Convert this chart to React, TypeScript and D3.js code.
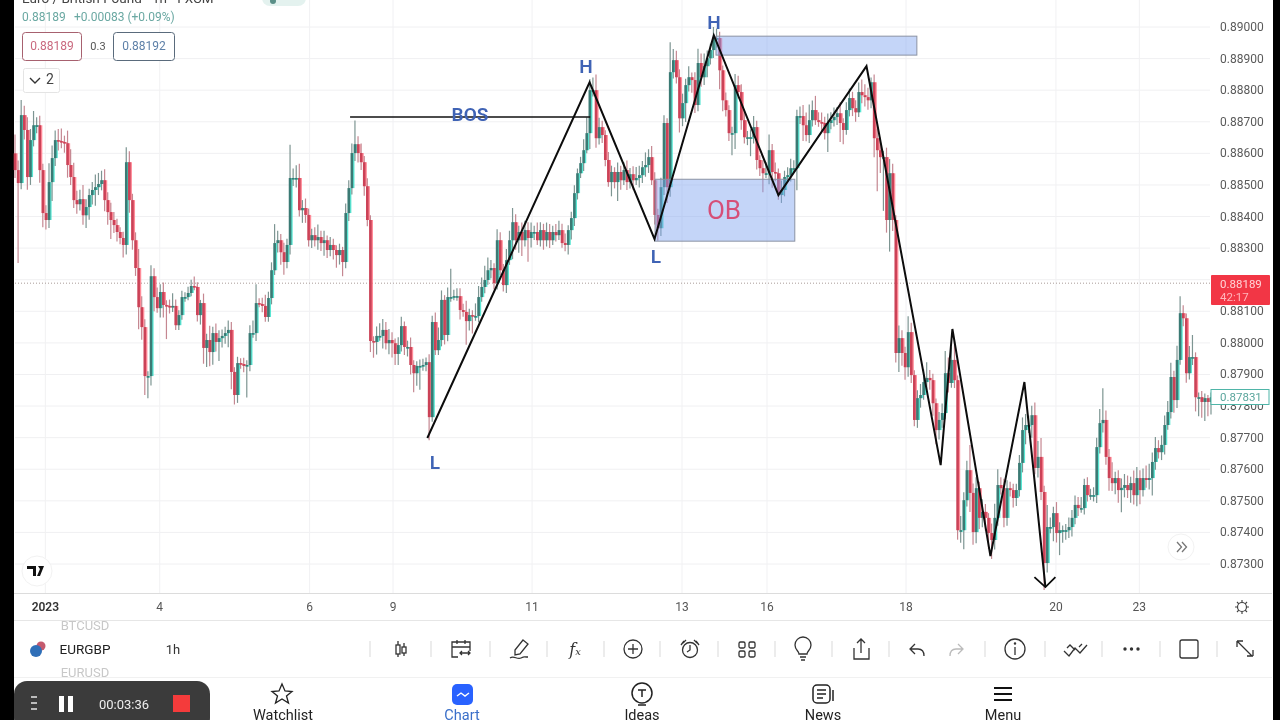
import React from "react";
import * as d3 from "d3";

// All candle values are in units of 0.00001 above this base price.
const BASE_PRICE = 0.87;
const UNIT = 0.00001;
const FIRST_OPEN = 1600;

const closes = [
  1547,1506,1721,1674,1525,1642,1689,1689,1547,1411,1389,1509,
  1585,1642,1639,1636,1632,1563,1525,1452,1439,1455,1404,1430,
  1468,1484,1493,1503,1515,1452,1414,1389,1373,1351,1332,1310,
  1572,1452,1325,1237,1113,1050,895,895,1211,1145,1110,1161,
  1120,1117,1113,1117,1056,1088,1145,1145,1158,1180,1177,1088,
  1126,984,1009,971,1031,1003,1015,1022,1031,1041,908,835,
  936,933,927,930,1031,1031,1126,1123,1117,1082,1142,1230,
  1316,1325,1287,1256,1310,1522,1522,1522,1420,1427,1405,1325,
  1341,1325,1335,1316,1325,1294,1310,1294,1278,1294,1256,1411,
  1490,1601,1629,1601,1572,1496,1389,1006,1003,1022,1022,1041,
  999,1009,999,965,993,1053,987,987,930,904,927,927,
  930,939,765,1066,977,1009,1136,1025,1145,1145,1148,1148,
  1104,1098,1069,1088,1085,1085,1145,1177,1199,1230,1237,1189,
  1325,1230,1183,1262,1325,1382,1325,1351,1325,1357,1332,1351,
  1351,1325,1357,1325,1351,1325,1351,1341,1357,1316,1310,1357,
  1395,1474,1537,1569,1610,1664,1800,1800,1648,1683,1658,1579,
  1509,1541,1509,1541,1515,1547,1509,1534,1515,1522,1531,1556,
  1563,1588,1515,1405,1363,1493,1696,1493,1857,1895,1841,1711,
  1759,1816,1841,1832,1753,1886,1841,1876,1901,1927,1965,1965,
  1863,1768,1737,1664,1664,1816,1794,1705,1651,1651,1651,1683,
  1579,1553,1537,1537,1610,1541,1537,1468,1484,1525,1531,1553,
  1553,1718,1718,1689,1658,1705,1737,1705,1699,1696,1664,1696,
  1705,1715,1727,1696,1674,1737,1775,1743,1730,1794,1784,1778,
  1768,1825,1648,1610,1588,1588,1389,1537,1389,968,1015,968,
  923,1034,898,756,825,835,876,889,882,809,724,756,
  778,904,873,946,882,407,407,502,597,525,401,540,
  446,465,446,398,376,446,550,540,446,540,534,509,
  534,620,724,740,740,771,604,639,528,303,417,417,
  461,398,407,407,407,417,446,487,477,477,550,518,
  518,518,670,746,756,639,572,556,572,534,541,550,
  534,556,518,572,534,572,566,572,623,667,654,677,
  740,781,892,819,946,1094,1078,904,955,955,828,828,
  813,825,813,828,
];

const upperWicks = [
  60,30,48,30,40,35,45,25,30,20,25,60,
  40,30,35,40,20,40,50,45,30,30,45,25,
  20,25,40,35,30,35,25,30,25,20,15,20,
  47,35,20,25,60,35,25,15,35,25,30,25,
  30,15,20,40,20,15,20,15,20,20,30,15,
  10,30,20,45,20,30,25,20,20,30,25,15,
  20,15,20,15,25,40,60,15,20,35,20,25,
  60,30,20,30,20,105,30,40,45,25,30,20,
  20,25,40,20,30,15,25,20,15,20,10,30,
  25,30,75,25,30,20,25,15,15,30,40,35,
  25,35,25,15,25,30,15,20,30,15,15,20,
  20,15,25,20,30,40,30,15,30,90,20,25,
  25,20,35,20,15,40,35,30,45,40,25,15,
  35,25,20,35,30,45,25,20,30,30,25,30,
  20,30,25,20,30,25,20,25,30,20,30,15,
  20,25,15,20,35,50,35,40,50,30,20,15,
  25,20,15,30,20,25,30,20,25,35,30,20,
  40,25,35,25,20,30,25,15,95,35,30,25,
  30,20,35,15,25,45,30,40,25,20,35,30,
  20,15,25,15,20,35,30,25,30,20,25,35,
  20,15,25,35,50,20,30,15,30,20,25,30,
  25,20,30,35,40,50,30,45,25,30,20,30,
  25,30,20,35,15,25,30,20,25,30,40,35,
  30,15,25,30,40,20,30,45,30,15,40,25,
  20,50,30,15,25,35,40,50,25,20,15,25,
  30,70,50,40,60,15,45,25,30,80,30,35,
  20,40,25,15,30,45,50,25,30,25,20,20,
  20,25,40,35,30,30,40,50,60,20,70,30,
  20,35,25,15,20,30,25,30,25,35,20,25,
  20,25,30,45,100,30,25,50,20,25,30,35,
  30,20,40,35,25,30,40,45,30,35,25,30,
  30,35,45,20,45,54,25,15,35,70,15,15,
  20,15,10,15,
];

const lowerWicks = [
  25,253,20,30,40,25,20,25,40,45,30,25,
  60,25,30,20,30,40,25,25,30,20,30,40,
  40,30,50,25,20,35,40,60,25,30,20,40,
  30,40,30,25,70,40,60,70,30,45,15,30,
  40,105,20,15,15,15,15,15,10,10,10,20,
  30,50,60,45,40,30,60,30,25,45,55,30,
  25,15,20,100,20,15,25,10,20,15,15,20,
  15,30,40,40,20,30,25,30,20,40,25,20,
  25,20,30,25,40,25,20,30,40,30,45,20,
  25,20,25,30,25,30,20,35,50,40,15,40,
  20,35,45,35,35,20,25,30,30,60,40,75,
  15,20,73,15,15,15,20,30,20,15,10,15,
  30,15,75,30,55,15,20,15,20,15,25,20,
  20,15,20,25,15,60,30,40,50,20,75,30,
  25,15,20,30,20,25,15,20,15,15,20,30,
  30,25,20,15,25,10,50,20,30,20,25,20,
  15,45,20,60,30,15,25,20,30,15,30,25,
  30,25,15,30,40,25,25,50,30,20,20,45,
  25,60,20,40,25,20,30,25,35,20,25,30,
  60,35,20,25,70,50,20,30,20,25,60,20,
  30,25,60,15,35,50,25,15,25,20,15,20,
  15,70,25,50,20,25,20,15,15,25,20,60,
  20,20,25,60,45,15,20,25,30,15,25,30,
  30,25,60,130,50,170,40,100,35,30,60,40,
  40,30,25,20,25,30,15,25,30,40,45,30,
  25,20,30,15,25,30,40,60,20,60,40,35,
  35,30,40,50,60,30,25,20,30,25,20,30,
  25,20,30,45,25,40,20,30,25,85,30,20,
  45,30,70,40,30,25,30,20,25,15,20,20,
  15,20,25,20,30,25,40,25,35,40,70,30,
  25,40,30,35,45,20,25,30,55,25,20,25,
  30,15,20,40,25,15,25,30,20,25,45,60,
  50,60,45,40,
];

const priceTicks = [0.89,0.889,0.888,0.887,0.886,0.885,0.884,0.883,0.882,0.881,0.88,0.879,0.878,0.877,0.876,0.875,0.874,0.873];
const hiddenTickLabel = 0.882; // covered by the last-price badge in the reference
const timeTickBars = [9.5,46.5,95,122,167,215.5,243,288,336.5,363.5];
const timeTickLabels = ["2023","4","6","9","11","13","16","18","20","23"];

const zigzagBars = [133.1,185.6,206.6,225.8,246.7,275.2,299.2,303,315.3,326.3,333.1];
const zigzagPoints = [699,1825,1329,1974,1468,1876,613,1044,325,876,227];
const bosBars = [108.1,185.8];
const bosPoint = 1715;
const upperZone = { bars: [226.5,291.5], points: [1971,1911] };
const orderBlock = { bars: [206.8,252], points: [1518,1322] };
const lastPrice = 0.88189;
const bidPrice = 0.87831;

const toolbarSeparators = [370,431,490,547,604,660,718,775,832,889,985,1045,1102,1160,1217];
const navItems = [["Watchlist",283],["Chart",462],["Ideas",642],["News",823],["Menu",1003]] as const;

const x = d3.scaleLinear().domain([0, 387]).range([15, 1211]);
const y = d3.scaleLinear().domain([0.873, 0.89]).range([564, 27]);
const py = (u: number) => y(BASE_PRICE + u * UNIT);
const zx = d3.scaleLinear().domain([0, 387]).range([16, 1212]);

const candles = closes.map((c, i) => {
  const o = i === 0 ? FIRST_OPEN : closes[i - 1];
  return { i, o, c, h: Math.max(o, c) + upperWicks[i], l: Math.min(o, c) - lowerWicks[i] };
});

const zigzag = d3.line<number>().x((_, i) => zx(zigzagBars[i])).y((p) => py(p));

const FONT = "Roboto, sans-serif";
const ICON = "#333";

export default function App() {
  const [bx0, bx1] = upperZone.bars.map(zx);
  const [by0, by1] = upperZone.points.map(py);
  const [ox0, ox1] = orderBlock.bars.map(zx);
  const [oy0, oy1] = orderBlock.points.map(py);
  const tipX = zx(zigzagBars[zigzagBars.length - 1]);
  const tipY = py(zigzagPoints[zigzagPoints.length - 1]);
  return (
    <svg width={1280} height={720} viewBox="0 0 1280 720"
      style={{ position: "fixed", left: 0, top: 0, background: "#000", filter: "blur(0.4px)" }} fontFamily={FONT}>
      <rect x={14} y={0} width={1259} height={720} fill="#fff" />

      {priceTicks.map((t) => (
        <line key={t} x1={15} x2={1210} y1={y(t)} y2={y(t)} stroke="#f0f0f2" strokeWidth={1} />
      ))}
      {timeTickBars.map((b) => (
        <line key={b} x1={zx(b)} x2={zx(b)} y1={0} y2={593} stroke="#f1f1f3" strokeWidth={1} />
      ))}
      <line x1={15} x2={1210} y1={y(lastPrice)} y2={y(lastPrice)} stroke="#a89a98" strokeWidth={1} strokeDasharray="1 2" />

      {candles.map((d) => {
        const up = d.c >= d.o;
        const top = py(Math.max(d.o, d.c));
        const h = Math.max(1.6, py(Math.min(d.o, d.c)) - top);
        const cx = x(d.i);
        return (
          <g key={d.i}>
            <line x1={cx} x2={cx} y1={py(d.h)} y2={py(d.l)} stroke={up ? "#7d9592" : "#c58791"} strokeWidth={1.2} />
            <rect x={cx + 0.4} y={top} width={2.2} height={h} fill={up ? "#2fe0c8" : "#ff6f80"} opacity={0.8} />
            <rect x={cx - 1.3} y={top} width={2.6} height={h} fill={up ? "#3b7a74" : "#cb4257"} />
          </g>
        );
      })}

      <rect x={bx0} y={by0} width={bx1 - bx0} height={by1 - by0} fill="#7fa4ef" fillOpacity={0.46} stroke="#8b92a3" strokeWidth={1} />
      <rect x={ox0} y={oy0} width={ox1 - ox0} height={oy1 - oy0} fill="#7fa4ef" fillOpacity={0.46} stroke="#8b92a3" strokeWidth={1} />
      <line x1={zx(bosBars[0])} x2={zx(bosBars[1])} y1={py(bosPoint)} y2={py(bosPoint)} stroke="#111" strokeWidth={1.6} />
      <path d={zigzag(zigzagPoints) || ""} fill="none" stroke="#0c0c0c" strokeWidth={2} strokeLinejoin="miter" />
      <path d={`M${tipX - 11} ${tipY - 10}L${tipX} ${tipY}L${tipX + 10} ${tipY - 10}`} fill="none" stroke="#0c0c0c" strokeWidth={1.8} />

      <g fill="#3f63b5" fontSize={19} fontWeight={600} textAnchor="middle">
        <text x={586} y={73}>H</text>
        <text x={714} y={29}>H</text>
        <text x={656} y={263}>L</text>
        <text x={435} y={469}>L</text>
        <text x={470} y={121}>BOS</text>
      </g>
      <text x={724} y={219} fontSize={26} fill="#d64f78" textAnchor="middle">OB</text>

      {priceTicks.filter((t) => t !== hiddenTickLabel).map((t) => (
        <text key={t} x={1220} y={y(t) + 4} fontSize={12} fill="#5a5a5a">{t.toFixed(5)}</text>
      ))}
      <rect x={1211} y={275} width={59} height={30} rx={1} fill="#f23645" />
      <text x={1220} y={288} fontSize={11.5} fill="#ffd5d8">{lastPrice.toFixed(5)}</text>
      <text x={1220} y={301} fontSize={11.5} fill="#ffb5bb">42:17</text>
      <rect x={1211} y={389.5} width={58} height={15} fill="#fff" stroke="#4fb5a8" strokeWidth={1} />
      <text x={1220} y={401} fontSize={11.5} fill="#5aa59c">{bidPrice.toFixed(5)}</text>

      {/* header */}
      <text x={22} y={3} fontSize={13.5} fill="#444">Euro / British Pound · 1h · FXCM</text>
      <rect x={262} y={-10} width={44} height={16} rx={8} fill="#e4f2ef" />
      <circle cx={273} cy={1} r={3} fill="#5b8f88" />
      <text x={22} y={21} fontSize={12} fill="#6aa8a2">0.88189</text>
      <text x={74} y={21} fontSize={12} fill="#6aa8a2">+0.00083 (+0.09%)</text>
      <rect x={22.5} y={32.5} width={59} height={28} rx={3} fill="#fff" stroke="#a7616f" />
      <text x={52} y={50} fontSize={12} fill="#c9697e" textAnchor="middle">0.88189</text>
      <text x={98} y={50} fontSize={11} fill="#555" textAnchor="middle">0.3</text>
      <rect x={113.5} y={32.5} width={61} height={28} rx={3} fill="#fff" stroke="#5a6b7c" />
      <text x={144} y={50} fontSize={12} fill="#5e80a8" textAnchor="middle">0.88192</text>
      <rect x={23.5} y={68.5} width={36} height={24} rx={2} fill="#fff" stroke="#e4e4e4" />
      <path d="M30 78l5 5 5-5" fill="none" stroke="#333" strokeWidth={1.4} />
      <text x={46} y={84} fontSize={14} fill="#444">2</text>

      {/* floating buttons */}
      <circle cx={37} cy={571} r={15} fill="#fff" stroke="#f2f2f2" />
      <path d="M27 566h9v10h-3v-7h-6zM38 566h6l-4 10h-3l3-7z" fill="#111" />
      <circle cx={1181} cy={547} r={13} fill="#fff" stroke="#f2f2f2" />
      <path d="M1177 542l4.5 5-4.5 5M1182 542l4.5 5-4.5 5" fill="none" stroke="#777" strokeWidth={1.3} />

      {/* time axis */}
      <line x1={14} x2={1272} y1={593.5} y2={593.5} stroke="#dcdcdc" />
      <line x1={14} x2={1272} y1={620.5} y2={620.5} stroke="#e6e6e6" />
      {timeTickBars.map((b, i) => (
        <text key={b} x={zx(b)} y={611} fontSize={12} textAnchor="middle" fontWeight={i === 0 ? 600 : 400} fill={i === 0 ? "#333" : "#555"}>{timeTickLabels[i]}</text>
      ))}
      <g transform="translate(1242,607)" fill="none" stroke="#444" strokeWidth={1.2}>
        <circle r={4.5} />
        <path d="M0-7v2.5M0 4.5V7M-7 0h2.5M4.5 0H7M-5-5l1.8 1.8M3.2 3.2L5 5M5-5L3.2-3.2M-3.2 3.2L-5 5" />
      </g>

      {/* symbol row */}
      <text x={85} y={630} fontSize={13} fill="#c8c8c8" textAnchor="middle">BTCUSD</text>
      <text x={85} y={654} fontSize={13.5} fill="#222" textAnchor="middle">EURGBP</text>
      <text x={85} y={677} fontSize={13} fill="#c8c8c8" textAnchor="middle">EURUSD</text>
      <circle cx={41} cy={646} r={4.5} fill="#c45a6e" />
      <circle cx={36} cy={651} r={6} fill="#2f6fb8" />
      <text x={173} y={654} fontSize={13} fill="#333" textAnchor="middle">1h</text>
      <line x1={14} x2={1272} y1={677.5} y2={677.5} stroke="#f1f1f1" />

      {/* toolbar */}
      {toolbarSeparators.map((s) => (
        <line key={s} x1={s} x2={s} y1={641} y2={657} stroke="#d9d9d9" />
      ))}
      <g fill="none" stroke={ICON} strokeWidth={1.3}>
        <path d="M398 641v16M404 643v13" /><rect x={396} y={645} width={4} height={9} fill="#fff" /><rect x={402} y={647} width={4} height={6} fill="#fff" />
        <path d="M458 657h-6v-15h18v9M452 647h18M457 640v4M465 640v4M460 653h10M462 651l-2 2 2 2M468 651l2 2-2 2" />
        <path d="M523 640l5 4-8 10-5 1 0-5zM510 658c4-3 7 2 11 0s2-1 7-1" />
        <text x={575} y={655} fontSize={16} fontStyle="italic" fill={ICON} stroke="none" textAnchor="middle" fontFamily="'DejaVu Serif', serif">f<tspan fontSize={10}>x</tspan></text>
        <circle cx={633} cy={649} r={9} /><path d="M628 649h10M633 644v10" />
        <circle cx={690} cy={650} r={7.5} /><path d="M690 645v5l-3 2M683 643l3-3M697 643l-3-3M681 645l3-4M699 645l-3-4" />
        <rect x={739} y={642} width={6} height={6} rx={1.5} /><rect x={749} y={642} width={6} height={6} rx={1.5} /><rect x={739} y={651} width={6} height={6} rx={1.5} /><rect x={749} y={651} width={6} height={6} rx={1.5} />
        <path d="M799 654c0-3-4-4-4-9a8 8 0 0116 0c0 5-4 6-4 9zM800 657h6M801 660h4" />
        <path d="M854 648h-0v11h15v-11M861 653v-14M857 643l4-4 4 4" />
        <path d="M911 649h7c4 0 6 3 6 7M915 644l-5 5 5 5" />
        <path d="M962 649h-6c-4 0-6 3-6 7M958 644l5 5-5 5" stroke="#bbb" />
        <circle cx={1015} cy={649} r={10} /><path d="M1015 647v8" /><circle cx={1015} cy={643.5} r={0.6} />
        <path d="M1064 651l5 5 6-8 5 5 7-8M1067 648l3-3 5 5M1079 647l3-3" />
        <rect x={1180} y={640} width={18} height={18} rx={2} />
        <path d="M1237 641l15 15M1237 641v6M1237 641h6M1253 656v-6M1253 656h-6" />
      </g>
      <g fill="#333">
        <circle cx={1125} cy={649} r={1.7} /><circle cx={1131.5} cy={649} r={1.7} /><circle cx={1138} cy={649} r={1.7} />
      </g>

      {/* recorder */}
      <rect x={14} y={681} width={196} height={50} rx={13} fill="#3b3b3b" />
      <rect x={31} y={696} width={6} height={2} fill="#bbb" /><rect x={31} y={702} width={6} height={2} fill="#bbb" /><rect x={31} y={708} width={6} height={2} fill="#bbb" />
      <rect x={59} y={696} width={5} height={16} fill="#fff" /><rect x={68} y={696} width={5} height={16} fill="#fff" />
      <text x={124} y={709} fontSize={13} fill="#eee" textAnchor="middle">00:03:36</text>
      <rect x={173} y={695} width={17} height={17} fill="#f43b3b" />

      {/* bottom nav */}
      {navItems.map(([label, cx]) => (
        <text key={label} x={cx} y={720} fontSize={14.5} textAnchor="middle" fill={label === "Chart" ? "#3a6fc9" : "#222"}>{label}</text>
      ))}
      <path d="M282 684l3 7 7 .5-5.5 4.5 2 7-6.5-4-6.5 4 2-7-5.5-4.5 7-.5z" fill="none" stroke="#222" strokeWidth={1.3} />
      <rect x={452} y={684} width={21} height={21} rx={5} fill="#2962ff" />
      <path d="M457 696l4-3 4 3 4-3" fill="none" stroke="#fff" strokeWidth={1.4} />
      <g fill="none" stroke="#222" strokeWidth={1.5}>
        <circle cx={642} cy={693} r={10} /><path d="M638 690h8M642 690v7M638 705h8" />
        <rect x={813} y={685} width={17} height={18} rx={4} /><path d="M817 690h9M817 694h9M817 698h6M833 690v11" />
      </g>
      <g fill="#111">
        <rect x={994} y={687} width={18} height={2} /><rect x={994} y={693} width={18} height={2} /><rect x={994} y={699} width={18} height={2} />
      </g>
    </svg>
  );
}
